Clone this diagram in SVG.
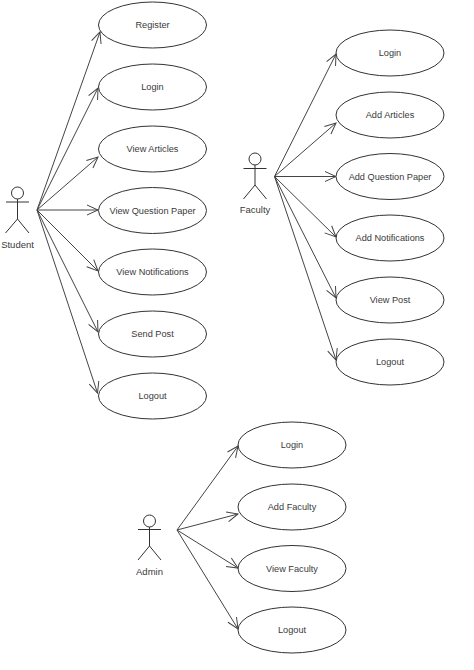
<svg xmlns="http://www.w3.org/2000/svg" width="474" height="670" viewBox="0 0 474 670">
<style>
text{font-family:"Liberation Sans",Arial,sans-serif;font-size:9.2px;fill:#3a3a3a;text-anchor:middle}
.u ellipse{fill:#fff;stroke:#333;stroke-width:1}
.a *{fill:none;stroke:#333;stroke-width:1}
.a text{fill:#3a3a3a;stroke:none;font-size:9.500px}
#connectors line{stroke:#444;stroke-width:1;marker-end:url(#open)}
</style>
<defs><marker id="open" markerUnits="userSpaceOnUse" markerWidth="14" markerHeight="14" refX="12" refY="7" orient="auto"><path d="M1 2L12 7L1 12" fill="none" stroke="#444" stroke-width="1"/></marker></defs>
<rect width="474" height="670" fill="#fff"/>
<g id="a-student" class="a"><circle cx="17.500" cy="193" r="6"/><path d="M6 202H29M17.500 199V219L5.500 233M17.500 219L29 233"/><text x="17.500" y="248">Student</text></g>
<g id="a-faculty" class="a"><circle cx="255" cy="159" r="6"/><path d="M243.500 168.500H266.500M255 165V185L243.500 199M255 185L266.500 199"/><text x="255" y="213">Faculty</text></g>
<g id="a-admin" class="a"><circle cx="149.500" cy="521" r="6"/><path d="M138 529.500H161M149.500 527V546L138 560M149.500 546L161 560"/><text x="149.500" y="575">Admin</text></g>
<g id="s1" class="u"><ellipse cx="152.500" cy="25" rx="54" ry="23"/><text x="152.500" y="28">Register</text></g>
<g id="s2" class="u"><ellipse cx="152.500" cy="87" rx="54" ry="23"/><text x="152.500" y="90">Login</text></g>
<g id="s3" class="u"><ellipse cx="152.500" cy="149" rx="54" ry="23"/><text x="152.500" y="152">View Articles</text></g>
<g id="s4" class="u"><ellipse cx="152.500" cy="210.500" rx="54" ry="23"/><text x="152.500" y="213.500">View Question Paper</text></g>
<g id="s5" class="u"><ellipse cx="152.500" cy="272" rx="54" ry="23"/><text x="152.500" y="275">View Notifications</text></g>
<g id="s6" class="u"><ellipse cx="152.500" cy="334" rx="54" ry="23"/><text x="152.500" y="337">Send Post</text></g>
<g id="s7" class="u"><ellipse cx="152.500" cy="396" rx="54" ry="23"/><text x="152.500" y="399">Logout</text></g>
<g id="f1" class="u"><ellipse cx="390" cy="53" rx="54" ry="23"/><text x="390" y="56">Login</text></g>
<g id="f2" class="u"><ellipse cx="390" cy="115" rx="54" ry="23"/><text x="390" y="118">Add Articles</text></g>
<g id="f3" class="u"><ellipse cx="390" cy="176.500" rx="54" ry="23"/><text x="390" y="179.500">Add Question Paper</text></g>
<g id="f4" class="u"><ellipse cx="390" cy="238" rx="54" ry="23"/><text x="390" y="241">Add Notifications</text></g>
<g id="f5" class="u"><ellipse cx="390" cy="300" rx="54" ry="23"/><text x="390" y="303">View Post</text></g>
<g id="f6" class="u"><ellipse cx="390" cy="362" rx="54" ry="23"/><text x="390" y="365">Logout</text></g>
<g id="d1" class="u"><ellipse cx="292" cy="445" rx="54" ry="23"/><text x="292" y="448">Login</text></g>
<g id="d2" class="u"><ellipse cx="292" cy="507" rx="54" ry="23"/><text x="292" y="510">Add Faculty</text></g>
<g id="d3" class="u"><ellipse cx="292" cy="568.500" rx="54" ry="23"/><text x="292" y="571.500">View Faculty</text></g>
<g id="d4" class="u"><ellipse cx="292" cy="630" rx="54" ry="23"/><text x="292" y="633">Logout</text></g>
<g id="connectors">
<line x1="37" y1="210" x2="100" y2="32"/><line x1="37" y1="210" x2="98" y2="88"/><line x1="37" y1="210" x2="98" y2="157"/><line x1="37" y1="210" x2="98" y2="210"/><line x1="37" y1="210" x2="98" y2="271"/><line x1="37" y1="210" x2="98" y2="332"/><line x1="37" y1="210" x2="97.500" y2="393"/>
<line x1="274.500" y1="176.500" x2="336" y2="54"/><line x1="274.500" y1="176.500" x2="336" y2="123"/><line x1="274.500" y1="176.500" x2="336" y2="176.500"/><line x1="274.500" y1="176.500" x2="336" y2="237"/><line x1="274.500" y1="176.500" x2="336" y2="298"/><line x1="274.500" y1="176.500" x2="336" y2="360"/>
<line x1="177" y1="530" x2="238" y2="446"/><line x1="177" y1="530" x2="238" y2="514"/><line x1="177" y1="530" x2="238" y2="568"/><line x1="177" y1="530" x2="238" y2="629"/>
</g>
</svg>
